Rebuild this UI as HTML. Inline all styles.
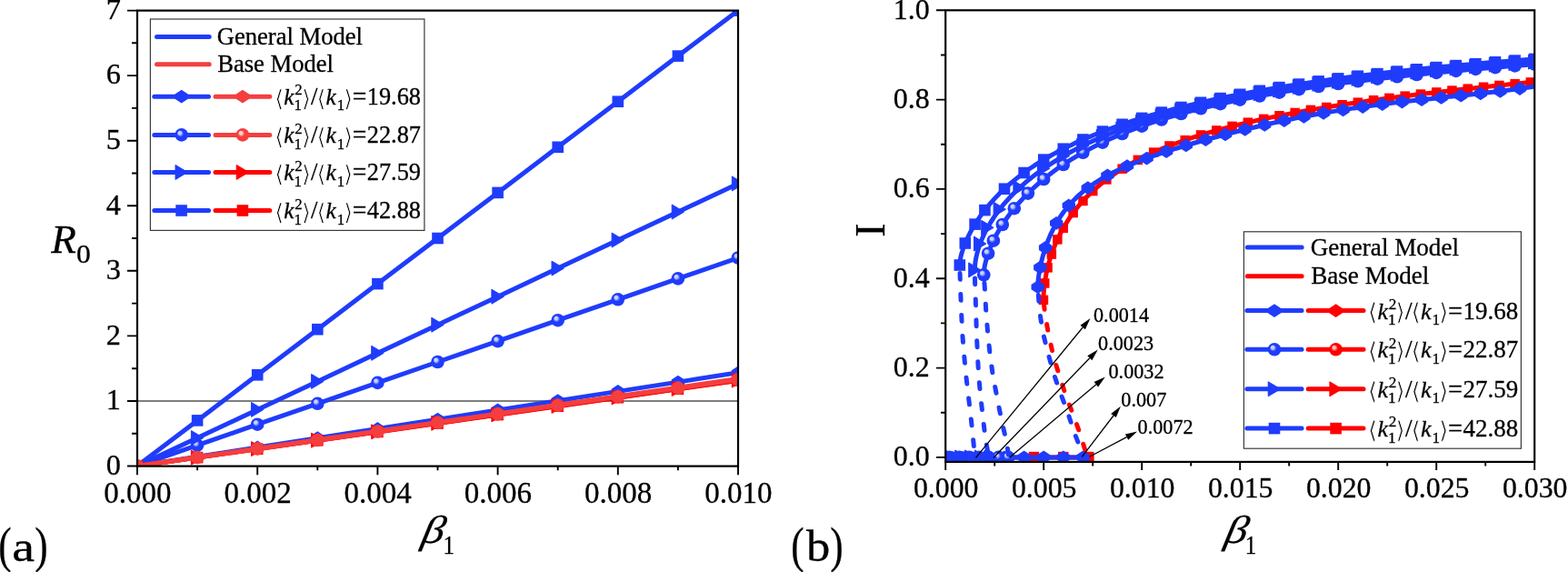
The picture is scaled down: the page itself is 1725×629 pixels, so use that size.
<!DOCTYPE html>
<html><head><meta charset="utf-8"><title>Figure</title>
<style>html,body{margin:0;padding:0;background:#fff;} body{width:1725px;height:629px;position:relative;overflow:hidden;}</style>
</head><body>
<svg width="1725" height="629" viewBox="0 0 1725 629" style="position:absolute;left:0;top:0">
<defs>
<style>text{stroke:#000;stroke-width:0.3px;stroke-linejoin:round;}</style>
<radialGradient id="gb" cx="0.5" cy="0.5" r="0.5" fx="0.32" fy="0.30"><stop offset="0" stop-color="#c9d2ff"/><stop offset="0.22" stop-color="#c9d2ff"/><stop offset="0.5" stop-color="#1F3CFC"/><stop offset="1" stop-color="#1F3CFC"/></radialGradient>
<radialGradient id="gr" cx="0.5" cy="0.5" r="0.5" fx="0.32" fy="0.30"><stop offset="0" stop-color="#ffc0c0"/><stop offset="0.22" stop-color="#ffc0c0"/><stop offset="0.5" stop-color="#FF0000"/><stop offset="1" stop-color="#FF0000"/></radialGradient>
<radialGradient id="glr" cx="0.5" cy="0.5" r="0.5" fx="0.32" fy="0.30"><stop offset="0" stop-color="#ffd0d0"/><stop offset="0.22" stop-color="#ffd0d0"/><stop offset="0.5" stop-color="#F53E3E"/><stop offset="1" stop-color="#F53E3E"/></radialGradient>
<clipPath id="clipA"><rect x="151.0" y="11.6" width="661.0" height="501.0"/></clipPath>
<clipPath id="clipB"><rect x="1040.2" y="11.3" width="648.0" height="496.59999999999997"/></clipPath>
</defs>
<rect width="1725" height="629" fill="#fff"/>
<g clip-path="url(#clipA)">
<line x1="151.0" y1="441.0" x2="812.0" y2="441.0" stroke="#7f7f7f" stroke-width="2.2"/>
<path d="M151.0,512.5 L217.1,502.3 L283.2,492.0 L349.3,481.7 L415.4,471.5 L481.5,461.2 L547.6,450.9 L613.7,440.6 L679.8,430.4 L745.9,420.1 L812.0,409.8" fill="none" stroke="#1F3CFC" stroke-width="5.0" stroke-linejoin="round" stroke-linecap="round" />
<polygon points="151.0,505.1 158.2,509.9 158.2,515.1 151.0,519.9 143.8,515.1 143.8,509.9" fill="#1F3CFC"/>
<polygon points="217.1,494.9 224.3,499.7 224.3,504.9 217.1,509.7 209.9,504.9 209.9,499.7" fill="#1F3CFC"/>
<polygon points="283.2,484.6 290.4,489.4 290.4,494.6 283.2,499.4 276.0,494.6 276.0,489.4" fill="#1F3CFC"/>
<polygon points="349.3,474.3 356.5,479.1 356.5,484.3 349.3,489.1 342.1,484.3 342.1,479.1" fill="#1F3CFC"/>
<polygon points="415.4,464.1 422.6,468.9 422.6,474.1 415.4,478.9 408.2,474.1 408.2,468.9" fill="#1F3CFC"/>
<polygon points="481.5,453.8 488.7,458.6 488.7,463.8 481.5,468.6 474.3,463.8 474.3,458.6" fill="#1F3CFC"/>
<polygon points="547.6,443.5 554.8,448.3 554.8,453.5 547.6,458.3 540.4,453.5 540.4,448.3" fill="#1F3CFC"/>
<polygon points="613.7,433.2 620.9,438.0 620.9,443.2 613.7,448.0 606.5,443.2 606.5,438.0" fill="#1F3CFC"/>
<polygon points="679.8,423.0 687.0,427.8 687.0,433.0 679.8,437.8 672.6,433.0 672.6,427.8" fill="#1F3CFC"/>
<polygon points="745.9,412.7 753.1,417.5 753.1,422.7 745.9,427.5 738.7,422.7 738.7,417.5" fill="#1F3CFC"/>
<polygon points="812.0,402.4 819.2,407.2 819.2,412.4 812.0,417.2 804.8,412.4 804.8,407.2" fill="#1F3CFC"/>
<path d="M151.0,512.5 L217.1,489.6 L283.2,466.7 L349.3,443.8 L415.4,420.9 L481.5,398.0 L547.6,375.1 L613.7,352.2 L679.8,329.3 L745.9,306.4 L812.0,283.5" fill="none" stroke="#1F3CFC" stroke-width="5.0" stroke-linejoin="round" stroke-linecap="round" />
<circle cx="151.0" cy="512.5" r="7.3" fill="url(#gb)"/>
<circle cx="217.1" cy="489.6" r="7.3" fill="url(#gb)"/>
<circle cx="283.2" cy="466.7" r="7.3" fill="url(#gb)"/>
<circle cx="349.3" cy="443.8" r="7.3" fill="url(#gb)"/>
<circle cx="415.4" cy="420.9" r="7.3" fill="url(#gb)"/>
<circle cx="481.5" cy="398.0" r="7.3" fill="url(#gb)"/>
<circle cx="547.6" cy="375.1" r="7.3" fill="url(#gb)"/>
<circle cx="613.7" cy="352.2" r="7.3" fill="url(#gb)"/>
<circle cx="679.8" cy="329.3" r="7.3" fill="url(#gb)"/>
<circle cx="745.9" cy="306.4" r="7.3" fill="url(#gb)"/>
<circle cx="812.0" cy="283.5" r="7.3" fill="url(#gb)"/>
<path d="M151.0,512.5 L217.1,481.5 L283.2,450.4 L349.3,419.4 L415.4,388.3 L481.5,357.2 L547.6,326.2 L613.7,295.1 L679.8,264.0 L745.9,233.0 L812.0,201.9" fill="none" stroke="#1F3CFC" stroke-width="5.0" stroke-linejoin="round" stroke-linecap="round" />
<polygon points="144.3,504.5 157.7,512.5 144.3,520.5" fill="#1F3CFC" stroke="#1F3CFC" stroke-width="1" stroke-linejoin="round"/>
<polygon points="210.4,473.5 223.8,481.5 210.4,489.5" fill="#1F3CFC" stroke="#1F3CFC" stroke-width="1" stroke-linejoin="round"/>
<polygon points="276.5,442.4 289.9,450.4 276.5,458.4" fill="#1F3CFC" stroke="#1F3CFC" stroke-width="1" stroke-linejoin="round"/>
<polygon points="342.6,411.4 356.0,419.4 342.6,427.4" fill="#1F3CFC" stroke="#1F3CFC" stroke-width="1" stroke-linejoin="round"/>
<polygon points="408.7,380.3 422.1,388.3 408.7,396.3" fill="#1F3CFC" stroke="#1F3CFC" stroke-width="1" stroke-linejoin="round"/>
<polygon points="474.8,349.2 488.2,357.2 474.8,365.2" fill="#1F3CFC" stroke="#1F3CFC" stroke-width="1" stroke-linejoin="round"/>
<polygon points="540.9,318.2 554.3,326.2 540.9,334.2" fill="#1F3CFC" stroke="#1F3CFC" stroke-width="1" stroke-linejoin="round"/>
<polygon points="607.0,287.1 620.4,295.1 607.0,303.1" fill="#1F3CFC" stroke="#1F3CFC" stroke-width="1" stroke-linejoin="round"/>
<polygon points="673.1,256.0 686.5,264.0 673.1,272.0" fill="#1F3CFC" stroke="#1F3CFC" stroke-width="1" stroke-linejoin="round"/>
<polygon points="739.2,225.0 752.6,233.0 739.2,241.0" fill="#1F3CFC" stroke="#1F3CFC" stroke-width="1" stroke-linejoin="round"/>
<polygon points="805.3,193.9 818.7,201.9 805.3,209.9" fill="#1F3CFC" stroke="#1F3CFC" stroke-width="1" stroke-linejoin="round"/>
<path d="M151.0,512.5 L217.1,462.4 L283.2,412.3 L349.3,362.2 L415.4,312.1 L481.5,262.0 L547.6,211.9 L613.7,161.8 L679.8,111.7 L745.9,61.6 L812.0,11.6" fill="none" stroke="#1F3CFC" stroke-width="5.0" stroke-linejoin="round" stroke-linecap="round" />
<rect x="144.7" y="506.2" width="12.6" height="12.6" fill="#1F3CFC"/>
<rect x="210.8" y="456.1" width="12.6" height="12.6" fill="#1F3CFC"/>
<rect x="276.9" y="406.0" width="12.6" height="12.6" fill="#1F3CFC"/>
<rect x="343.0" y="355.9" width="12.6" height="12.6" fill="#1F3CFC"/>
<rect x="409.1" y="305.8" width="12.6" height="12.6" fill="#1F3CFC"/>
<rect x="475.2" y="255.7" width="12.6" height="12.6" fill="#1F3CFC"/>
<rect x="541.3" y="205.6" width="12.6" height="12.6" fill="#1F3CFC"/>
<rect x="607.4" y="155.5" width="12.6" height="12.6" fill="#1F3CFC"/>
<rect x="673.5" y="105.4" width="12.6" height="12.6" fill="#1F3CFC"/>
<rect x="739.6" y="55.3" width="12.6" height="12.6" fill="#1F3CFC"/>
<rect x="805.7" y="5.3" width="12.6" height="12.6" fill="#1F3CFC"/>
<path d="M151.0,512.5 L217.1,503.1 L283.2,493.7 L349.3,484.3 L415.4,474.9 L481.5,465.5 L547.6,456.1 L613.7,446.7 L679.8,437.2 L745.9,427.8 L812.0,418.4" fill="none" stroke="#FF0000" stroke-width="5.0" stroke-linejoin="round" stroke-linecap="round" />
<rect x="144.7" y="506.2" width="12.6" height="12.6" fill="#FF0000"/>
<rect x="210.8" y="496.8" width="12.6" height="12.6" fill="#FF0000"/>
<rect x="276.9" y="487.4" width="12.6" height="12.6" fill="#FF0000"/>
<rect x="343.0" y="478.0" width="12.6" height="12.6" fill="#FF0000"/>
<rect x="409.1" y="468.6" width="12.6" height="12.6" fill="#FF0000"/>
<rect x="475.2" y="459.2" width="12.6" height="12.6" fill="#FF0000"/>
<rect x="541.3" y="449.8" width="12.6" height="12.6" fill="#FF0000"/>
<rect x="607.4" y="440.4" width="12.6" height="12.6" fill="#FF0000"/>
<rect x="673.5" y="430.9" width="12.6" height="12.6" fill="#FF0000"/>
<rect x="739.6" y="421.5" width="12.6" height="12.6" fill="#FF0000"/>
<rect x="805.7" y="412.1" width="12.6" height="12.6" fill="#FF0000"/>
<path d="M151.0,512.5 L217.1,503.1 L283.2,493.6 L349.3,484.2 L415.4,474.8 L481.5,465.3 L547.6,455.9 L613.7,446.4 L679.8,437.0 L745.9,427.5 L812.0,418.1" fill="none" stroke="#FF0000" stroke-width="5.0" stroke-linejoin="round" stroke-linecap="round" />
<polygon points="144.3,504.5 157.7,512.5 144.3,520.5" fill="#FF0000" stroke="#FF0000" stroke-width="1" stroke-linejoin="round"/>
<polygon points="210.4,495.1 223.8,503.1 210.4,511.1" fill="#FF0000" stroke="#FF0000" stroke-width="1" stroke-linejoin="round"/>
<polygon points="276.5,485.6 289.9,493.6 276.5,501.6" fill="#FF0000" stroke="#FF0000" stroke-width="1" stroke-linejoin="round"/>
<polygon points="342.6,476.2 356.0,484.2 342.6,492.2" fill="#FF0000" stroke="#FF0000" stroke-width="1" stroke-linejoin="round"/>
<polygon points="408.7,466.8 422.1,474.8 408.7,482.8" fill="#FF0000" stroke="#FF0000" stroke-width="1" stroke-linejoin="round"/>
<polygon points="474.8,457.3 488.2,465.3 474.8,473.3" fill="#FF0000" stroke="#FF0000" stroke-width="1" stroke-linejoin="round"/>
<polygon points="540.9,447.9 554.3,455.9 540.9,463.9" fill="#FF0000" stroke="#FF0000" stroke-width="1" stroke-linejoin="round"/>
<polygon points="607.0,438.4 620.4,446.4 607.0,454.4" fill="#FF0000" stroke="#FF0000" stroke-width="1" stroke-linejoin="round"/>
<polygon points="673.1,429.0 686.5,437.0 673.1,445.0" fill="#FF0000" stroke="#FF0000" stroke-width="1" stroke-linejoin="round"/>
<polygon points="739.2,419.5 752.6,427.5 739.2,435.5" fill="#FF0000" stroke="#FF0000" stroke-width="1" stroke-linejoin="round"/>
<polygon points="805.3,410.1 818.7,418.1 805.3,426.1" fill="#FF0000" stroke="#FF0000" stroke-width="1" stroke-linejoin="round"/>
<path d="M151.0,512.5 L217.1,503.0 L283.2,493.5 L349.3,484.0 L415.4,474.5 L481.5,464.9 L547.6,455.4 L613.7,445.9 L679.8,436.4 L745.9,426.9 L812.0,417.4" fill="none" stroke="#F53E3E" stroke-width="5.0" stroke-linejoin="round" stroke-linecap="round" />
<circle cx="151.0" cy="512.5" r="7.3" fill="url(#glr)"/>
<circle cx="217.1" cy="503.0" r="7.3" fill="url(#glr)"/>
<circle cx="283.2" cy="493.5" r="7.3" fill="url(#glr)"/>
<circle cx="349.3" cy="484.0" r="7.3" fill="url(#glr)"/>
<circle cx="415.4" cy="474.5" r="7.3" fill="url(#glr)"/>
<circle cx="481.5" cy="464.9" r="7.3" fill="url(#glr)"/>
<circle cx="547.6" cy="455.4" r="7.3" fill="url(#glr)"/>
<circle cx="613.7" cy="445.9" r="7.3" fill="url(#glr)"/>
<circle cx="679.8" cy="436.4" r="7.3" fill="url(#glr)"/>
<circle cx="745.9" cy="426.9" r="7.3" fill="url(#glr)"/>
<circle cx="812.0" cy="417.4" r="7.3" fill="url(#glr)"/>
<path d="M151.0,512.5 L217.1,502.9 L283.2,493.3 L349.3,483.7 L415.4,474.1 L481.5,464.5 L547.6,454.9 L613.7,445.3 L679.8,435.7 L745.9,426.1 L812.0,416.5" fill="none" stroke="#F53E3E" stroke-width="5.0" stroke-linejoin="round" stroke-linecap="round" />
<polygon points="151.0,505.1 158.2,509.9 158.2,515.1 151.0,519.9 143.8,515.1 143.8,509.9" fill="#F53E3E"/>
<polygon points="217.1,495.5 224.3,500.3 224.3,505.5 217.1,510.3 209.9,505.5 209.9,500.3" fill="#F53E3E"/>
<polygon points="283.2,485.9 290.4,490.7 290.4,495.9 283.2,500.7 276.0,495.9 276.0,490.7" fill="#F53E3E"/>
<polygon points="349.3,476.3 356.5,481.1 356.5,486.3 349.3,491.1 342.1,486.3 342.1,481.1" fill="#F53E3E"/>
<polygon points="415.4,466.7 422.6,471.5 422.6,476.7 415.4,481.5 408.2,476.7 408.2,471.5" fill="#F53E3E"/>
<polygon points="481.5,457.1 488.7,461.9 488.7,467.1 481.5,471.9 474.3,467.1 474.3,461.9" fill="#F53E3E"/>
<polygon points="547.6,447.5 554.8,452.3 554.8,457.5 547.6,462.3 540.4,457.5 540.4,452.3" fill="#F53E3E"/>
<polygon points="613.7,437.9 620.9,442.7 620.9,447.9 613.7,452.7 606.5,447.9 606.5,442.7" fill="#F53E3E"/>
<polygon points="679.8,428.3 687.0,433.1 687.0,438.3 679.8,443.1 672.6,438.3 672.6,433.1" fill="#F53E3E"/>
<polygon points="745.9,418.7 753.1,423.5 753.1,428.7 745.9,433.5 738.7,428.7 738.7,423.5" fill="#F53E3E"/>
<polygon points="812.0,409.1 819.2,413.9 819.2,419.1 812.0,423.9 804.8,419.1 804.8,413.9" fill="#F53E3E"/>
</g>
<rect x="151.0" y="11.6" width="661.0" height="501.0" fill="none" stroke="#000" stroke-width="2.2"/>
<path d="M140.0,512.5 H151.0 M145.0,476.8 H151.0 M140.0,441.0 H151.0 M145.0,405.2 H151.0 M140.0,369.4 H151.0 M145.0,333.6 H151.0 M140.0,297.8 H151.0 M145.0,262.0 H151.0 M140.0,226.3 H151.0 M145.0,190.5 H151.0 M140.0,154.7 H151.0 M145.0,118.9 H151.0 M140.0,83.1 H151.0 M145.0,47.3 H151.0 M140.0,11.6 H151.0 M151.0,512.6 V522.3 M217.1,512.6 V517.2 M283.2,512.6 V522.3 M349.3,512.6 V517.2 M415.4,512.6 V522.3 M481.5,512.6 V517.2 M547.6,512.6 V522.3 M613.7,512.6 V517.2 M679.8,512.6 V522.3 M745.9,512.6 V517.2 M812.0,512.6 V522.3" stroke="#000" stroke-width="1.9" fill="none"/>
<g font-family="'Liberation Serif', 'DejaVu Serif', serif" font-size="32.3" fill="#000">
<text x="133" y="521.7" text-anchor="end">0</text>
<text x="133" y="450.2" text-anchor="end">1</text>
<text x="133" y="378.6" text-anchor="end">2</text>
<text x="133" y="307.0" text-anchor="end">3</text>
<text x="133" y="235.5" text-anchor="end">4</text>
<text x="133" y="163.9" text-anchor="end">5</text>
<text x="133" y="92.3" text-anchor="end">6</text>
<text x="133" y="20.8" text-anchor="end">7</text>
</g>
<g font-family="'Liberation Serif', 'DejaVu Serif', serif" font-size="33" fill="#000">
<text x="151.3" y="552.6" text-anchor="middle">0.000</text>
<text x="283.5" y="552.6" text-anchor="middle">0.002</text>
<text x="415.7" y="552.6" text-anchor="middle">0.004</text>
<text x="547.9" y="552.6" text-anchor="middle">0.006</text>
<text x="680.1" y="552.6" text-anchor="middle">0.008</text>
<text x="812.3" y="552.6" text-anchor="middle">0.010</text>
</g>
<g clip-path="url(#clipB)">
<path d="M1040.2,502.9 L1195.7,502.9" fill="none" stroke="#FF0000" stroke-width="5.0" stroke-linejoin="round" stroke-linecap="round" />
<rect x="1034.5" y="496.8" width="11.5" height="11.5" fill="#FF0000"/>
<rect x="1066.9" y="496.8" width="11.5" height="11.5" fill="#FF0000"/>
<rect x="1099.2" y="496.8" width="11.5" height="11.5" fill="#FF0000"/>
<rect x="1131.7" y="496.8" width="11.5" height="11.5" fill="#FF0000"/>
<rect x="1164.0" y="496.8" width="11.5" height="11.5" fill="#FF0000"/>
<rect x="1192.1" y="496.8" width="11.5" height="11.5" fill="#FF0000"/>
<path d="M1148.0,329.9 L1149.3,342.6 L1153.0,364.8 L1159.0,392.3 L1165.9,414.4 L1173.0,436.5 L1181.2,457.2 L1189.0,479.3 L1196.2,502.9" fill="none" stroke="#FF0000" stroke-width="5.0" stroke-linejoin="round" stroke-linecap="round" stroke-dasharray="6.5 16.5" stroke-dashoffset="-4"/>
<path d="M1148.0,329.9 L1148.0,326.8 L1148.1,323.7 L1148.3,320.5 L1148.6,317.3 L1149.0,314.0 L1149.4,310.7 L1149.9,307.3 L1150.5,303.9 L1151.1,300.5 L1151.9,297.1 L1152.7,293.7 L1153.6,290.2 L1154.6,286.8 L1155.6,283.3 L1156.7,279.9 L1157.9,276.4 L1159.2,273.0 L1160.6,269.6 L1162.0,266.2 L1163.5,262.9 L1165.1,259.5 L1166.8,256.2 L1168.6,252.9 L1170.4,249.7 L1172.3,246.5 L1174.3,243.3 L1176.3,240.1 L1178.5,237.0 L1180.7,234.0 L1183.0,230.9 L1185.4,227.9 L1187.8,225.0 L1190.4,222.1 L1193.0,219.2 L1195.6,216.4 L1198.4,213.7 L1201.3,210.9 L1204.2,208.2 L1207.2,205.6 L1210.2,203.0 L1213.4,200.5 L1216.6,198.0 L1219.9,195.5 L1223.3,193.1 L1226.8,190.7 L1230.3,188.4 L1233.9,186.1 L1237.6,183.8 L1241.4,181.6 L1245.3,179.4 L1249.2,177.3 L1253.2,175.2 L1257.3,173.2 L1261.4,171.1 L1265.7,169.2 L1270.0,167.2 L1274.4,165.3 L1278.9,163.4 L1283.4,161.6 L1288.1,159.8 L1292.8,158.0 L1297.6,156.3 L1302.4,154.6 L1307.4,152.9 L1312.4,151.2 L1317.5,149.6 L1322.7,148.0 L1327.9,146.4 L1333.2,144.9 L1338.6,143.3 L1344.1,141.9 L1349.7,140.4 L1355.3,138.9 L1361.1,137.5 L1366.9,136.1 L1372.7,134.7 L1378.7,133.4 L1384.7,132.0 L1390.8,130.7 L1397.0,129.4 L1403.3,128.1 L1409.6,126.8 L1416.0,125.6 L1422.5,124.4 L1429.1,123.1 L1435.8,121.9 L1442.5,120.8 L1449.3,119.6 L1456.2,118.5 L1463.2,117.3 L1470.2,116.2 L1477.3,115.1 L1484.5,114.0 L1491.8,112.9 L1499.2,111.9 L1506.6,110.8 L1514.1,109.8 L1521.7,108.7 L1529.3,107.7 L1537.1,106.7 L1544.9,105.7 L1552.8,104.8 L1560.8,103.8 L1568.8,102.8 L1577.0,101.9 L1585.2,100.9 L1593.5,100.0 L1601.8,99.0 L1610.3,98.1 L1618.8,97.2 L1627.4,96.3 L1636.1,95.3 L1644.8,94.4 L1653.7,93.5 L1662.6,92.6 L1671.6,91.7 L1680.6,90.8 L1689.8,89.8 L1699.0,88.9" fill="none" stroke="#FF0000" stroke-width="5.0" stroke-linejoin="round" stroke-linecap="round" />
<rect x="1142.7" y="324.6" width="10.5" height="10.5" fill="#FF0000"/>
<rect x="1144.0" y="306.2" width="10.5" height="10.5" fill="#FF0000"/>
<rect x="1147.3" y="289.1" width="10.5" height="10.5" fill="#FF0000"/>
<rect x="1151.6" y="274.3" width="10.5" height="10.5" fill="#FF0000"/>
<rect x="1158.1" y="258.1" width="10.5" height="10.5" fill="#FF0000"/>
<rect x="1164.5" y="245.5" width="10.5" height="10.5" fill="#FF0000"/>
<rect x="1175.4" y="228.8" width="10.5" height="10.5" fill="#FF0000"/>
<rect x="1186.2" y="215.7" width="10.5" height="10.5" fill="#FF0000"/>
<rect x="1197.0" y="204.8" width="10.5" height="10.5" fill="#FF0000"/>
<rect x="1212.1" y="192.2" width="10.5" height="10.5" fill="#FF0000"/>
<rect x="1229.4" y="180.4" width="10.5" height="10.5" fill="#FF0000"/>
<rect x="1246.6" y="170.6" width="10.5" height="10.5" fill="#FF0000"/>
<rect x="1263.9" y="162.3" width="10.5" height="10.5" fill="#FF0000"/>
<rect x="1281.2" y="155.2" width="10.5" height="10.5" fill="#FF0000"/>
<rect x="1298.5" y="148.9" width="10.5" height="10.5" fill="#FF0000"/>
<rect x="1315.8" y="143.2" width="10.5" height="10.5" fill="#FF0000"/>
<rect x="1333.0" y="138.2" width="10.5" height="10.5" fill="#FF0000"/>
<rect x="1350.3" y="133.6" width="10.5" height="10.5" fill="#FF0000"/>
<rect x="1367.6" y="129.4" width="10.5" height="10.5" fill="#FF0000"/>
<rect x="1384.9" y="125.6" width="10.5" height="10.5" fill="#FF0000"/>
<rect x="1402.2" y="122.0" width="10.5" height="10.5" fill="#FF0000"/>
<rect x="1419.4" y="118.7" width="10.5" height="10.5" fill="#FF0000"/>
<rect x="1436.7" y="115.6" width="10.5" height="10.5" fill="#FF0000"/>
<rect x="1454.0" y="112.7" width="10.5" height="10.5" fill="#FF0000"/>
<rect x="1471.3" y="110.0" width="10.5" height="10.5" fill="#FF0000"/>
<rect x="1488.6" y="107.4" width="10.5" height="10.5" fill="#FF0000"/>
<rect x="1505.8" y="104.9" width="10.5" height="10.5" fill="#FF0000"/>
<rect x="1523.1" y="102.6" width="10.5" height="10.5" fill="#FF0000"/>
<rect x="1540.4" y="100.4" width="10.5" height="10.5" fill="#FF0000"/>
<rect x="1557.7" y="98.3" width="10.5" height="10.5" fill="#FF0000"/>
<rect x="1575.0" y="96.2" width="10.5" height="10.5" fill="#FF0000"/>
<rect x="1592.2" y="94.3" width="10.5" height="10.5" fill="#FF0000"/>
<rect x="1609.5" y="92.4" width="10.5" height="10.5" fill="#FF0000"/>
<rect x="1626.8" y="90.5" width="10.5" height="10.5" fill="#FF0000"/>
<rect x="1644.1" y="88.7" width="10.5" height="10.5" fill="#FF0000"/>
<rect x="1661.4" y="86.9" width="10.5" height="10.5" fill="#FF0000"/>
<rect x="1678.6" y="85.2" width="10.5" height="10.5" fill="#FF0000"/>
<path d="M1040.2,502.9 L1191.4,502.9" fill="none" stroke="#1F3CFC" stroke-width="5.0" stroke-linejoin="round" stroke-linecap="round" />
<polygon points="1040.2,495.5 1047.4,500.3 1047.4,505.5 1040.2,510.3 1033.0,505.5 1033.0,500.3" fill="#1F3CFC"/>
<polygon points="1061.8,495.5 1069.0,500.3 1069.0,505.5 1061.8,510.3 1054.6,505.5 1054.6,500.3" fill="#1F3CFC"/>
<polygon points="1083.4,495.5 1090.6,500.3 1090.6,505.5 1083.4,510.3 1076.2,505.5 1076.2,500.3" fill="#1F3CFC"/>
<polygon points="1105.0,495.5 1112.2,500.3 1112.2,505.5 1105.0,510.3 1097.8,505.5 1097.8,500.3" fill="#1F3CFC"/>
<polygon points="1126.6,495.5 1133.8,500.3 1133.8,505.5 1126.6,510.3 1119.4,505.5 1119.4,500.3" fill="#1F3CFC"/>
<polygon points="1148.2,495.5 1155.4,500.3 1155.4,505.5 1148.2,510.3 1141.0,505.5 1141.0,500.3" fill="#1F3CFC"/>
<polygon points="1169.8,495.5 1177.0,500.3 1177.0,505.5 1169.8,510.3 1162.6,505.5 1162.6,500.3" fill="#1F3CFC"/>
<polygon points="1191.4,495.5 1198.6,500.3 1198.6,505.5 1191.4,510.3 1184.2,505.5 1184.2,500.3" fill="#1F3CFC"/>
<circle cx="1044.5" cy="502.9" r="7.3" fill="url(#gb)"/>
<circle cx="1055.3" cy="502.9" r="7.3" fill="url(#gb)"/>
<circle cx="1066.1" cy="502.9" r="7.3" fill="url(#gb)"/>
<circle cx="1076.9" cy="502.9" r="7.3" fill="url(#gb)"/>
<circle cx="1087.7" cy="502.9" r="7.3" fill="url(#gb)"/>
<circle cx="1098.5" cy="502.9" r="7.3" fill="url(#gb)"/>
<circle cx="1109.3" cy="502.9" r="7.3" fill="url(#gb)"/>
<polygon points="1040.0,494.9 1053.4,502.9 1040.0,510.9" fill="#1F3CFC" stroke="#1F3CFC" stroke-width="1" stroke-linejoin="round"/>
<polygon points="1050.8,494.9 1064.2,502.9 1050.8,510.9" fill="#1F3CFC" stroke="#1F3CFC" stroke-width="1" stroke-linejoin="round"/>
<polygon points="1061.6,494.9 1075.0,502.9 1061.6,510.9" fill="#1F3CFC" stroke="#1F3CFC" stroke-width="1" stroke-linejoin="round"/>
<polygon points="1072.4,494.9 1085.8,502.9 1072.4,510.9" fill="#1F3CFC" stroke="#1F3CFC" stroke-width="1" stroke-linejoin="round"/>
<polygon points="1083.2,494.9 1096.6,502.9 1083.2,510.9" fill="#1F3CFC" stroke="#1F3CFC" stroke-width="1" stroke-linejoin="round"/>
<rect x="1036.1" y="496.6" width="12.6" height="12.6" fill="#1F3CFC"/>
<rect x="1046.9" y="496.6" width="12.6" height="12.6" fill="#1F3CFC"/>
<rect x="1057.7" y="496.6" width="12.6" height="12.6" fill="#1F3CFC"/>
<path d="M1141.7,315.6 L1143.7,342.6 L1147.1,364.8 L1152.7,387.4 L1158.8,409.5 L1165.9,430.6 L1174.1,451.8 L1181.2,473.9 L1189.2,494.5 L1191.6,502.9" fill="none" stroke="#1F3CFC" stroke-width="5.0" stroke-linejoin="round" stroke-linecap="round" stroke-dasharray="6.8 16.2" stroke-dashoffset="-9"/>
<path d="M1082.3,302.3 L1083.4,317.6 L1084.7,341.2 L1086.6,365.3 L1089.0,388.8 L1092.3,412.9 L1093.8,420.8 L1098.1,443.4 L1102.4,464.6 L1107.6,487.2 L1109.8,502.9" fill="none" stroke="#1F3CFC" stroke-width="5.0" stroke-linejoin="round" stroke-linecap="round" stroke-dasharray="6.8 16.2" stroke-dashoffset="-9"/>
<path d="M1072.4,296.9 L1072.6,311.2 L1073.7,341.2 L1074.3,365.3 L1075.4,388.8 L1076.5,410.5 L1078.6,434.6 L1081.2,457.4 L1083.8,480.3 L1085.6,490.6 L1087.7,502.9" fill="none" stroke="#1F3CFC" stroke-width="5.0" stroke-linejoin="round" stroke-linecap="round" stroke-dasharray="6.8 16.2" stroke-dashoffset="-9"/>
<path d="M1055.8,291.5 L1056.4,311.7 L1057.5,341.2 L1058.6,365.3 L1060.5,388.8 L1062.4,409.5 L1064.8,431.1 L1067.4,452.3 L1069.8,474.9 L1071.7,494.1 L1072.4,502.9" fill="none" stroke="#1F3CFC" stroke-width="5.0" stroke-linejoin="round" stroke-linecap="round" stroke-dasharray="6.8 16.2" stroke-dashoffset="-9"/>
<path d="M1141.7,315.6 L1141.8,313.6 L1141.9,311.4 L1142.1,308.9 L1142.3,306.3 L1142.7,303.5 L1143.1,300.6 L1143.6,297.6 L1144.2,294.4 L1144.9,291.2 L1145.7,287.9 L1146.5,284.6 L1147.4,281.2 L1148.4,277.9 L1149.4,274.5 L1150.6,271.1 L1151.8,267.7 L1153.1,264.3 L1154.5,260.9 L1155.9,257.6 L1157.5,254.3 L1159.1,251.1 L1160.8,247.9 L1162.5,244.8 L1164.4,241.7 L1166.3,238.7 L1168.3,235.7 L1170.4,232.8 L1172.6,230.0 L1174.8,227.3 L1177.1,224.6 L1179.5,221.9 L1182.0,219.4 L1184.6,216.9 L1187.2,214.4 L1189.9,212.1 L1192.7,209.7 L1195.6,207.5 L1198.5,205.3 L1201.6,203.2 L1204.7,201.1 L1207.9,199.0 L1211.1,197.0 L1214.5,195.1 L1217.9,193.2 L1221.4,191.3 L1225.0,189.5 L1228.7,187.7 L1232.4,186.0 L1236.2,184.2 L1240.1,182.5 L1244.1,180.9 L1248.1,179.2 L1252.3,177.6 L1256.5,176.0 L1260.8,174.4 L1265.1,172.8 L1269.6,171.2 L1274.1,169.7 L1278.7,168.1 L1283.4,166.6 L1288.2,165.1 L1293.0,163.5 L1297.9,162.0 L1302.9,160.5 L1308.0,159.0 L1313.1,157.5 L1318.4,156.0 L1323.7,154.5 L1329.1,153.0 L1334.6,151.5 L1340.1,150.0 L1345.7,148.5 L1351.4,147.0 L1357.2,145.5 L1363.1,144.0 L1369.0,142.6 L1375.0,141.1 L1381.1,139.7 L1387.3,138.2 L1393.6,136.8 L1399.9,135.4 L1406.3,134.0 L1412.8,132.6 L1419.4,131.3 L1426.0,129.9 L1432.8,128.6 L1439.6,127.3 L1446.5,126.0 L1453.4,124.8 L1460.5,123.6 L1467.6,122.4 L1474.8,121.2 L1482.1,120.1 L1489.4,118.9 L1496.9,117.9 L1504.4,116.8 L1512.0,115.8 L1519.7,114.8 L1527.4,113.8 L1535.3,112.8 L1543.2,111.9 L1551.2,111.0 L1559.2,110.1 L1567.4,109.2 L1575.6,108.4 L1583.9,107.5 L1592.3,106.6 L1600.7,105.8 L1609.3,104.9 L1617.9,104.0 L1626.6,103.0 L1635.4,102.1 L1644.2,101.0 L1653.2,100.0 L1662.2,98.8 L1671.3,97.6 L1680.4,96.2 L1689.7,94.8 L1699.0,93.2" fill="none" stroke="#1F3CFC" stroke-width="5.0" stroke-linejoin="round" stroke-linecap="round" />
<polygon points="1141.7,308.2 1148.9,313.0 1148.9,318.2 1141.7,323.0 1134.5,318.2 1134.5,313.0" fill="#1F3CFC"/>
<polygon points="1144.3,286.7 1151.5,291.5 1151.5,296.7 1144.3,301.5 1137.1,296.7 1137.1,291.5" fill="#1F3CFC"/>
<polygon points="1150.1,264.9 1157.3,269.7 1157.3,274.9 1150.1,279.7 1142.9,274.9 1142.9,269.7" fill="#1F3CFC"/>
<polygon points="1162.2,237.9 1169.4,242.7 1169.4,247.9 1162.2,252.7 1155.0,247.9 1155.0,242.7" fill="#1F3CFC"/>
<polygon points="1175.8,218.6 1183.0,223.4 1183.0,228.6 1175.8,233.4 1168.6,228.6 1168.6,223.4" fill="#1F3CFC"/>
<polygon points="1196.8,199.2 1204.0,204.0 1204.0,209.2 1196.8,214.0 1189.6,209.2 1189.6,204.0" fill="#1F3CFC"/>
<polygon points="1218.4,185.5 1225.6,190.3 1225.6,195.5 1218.4,200.3 1211.2,195.5 1211.2,190.3" fill="#1F3CFC"/>
<polygon points="1240.0,175.2 1247.2,180.0 1247.2,185.2 1240.0,190.0 1232.8,185.2 1232.8,180.0" fill="#1F3CFC"/>
<polygon points="1261.6,166.7 1268.8,171.5 1268.8,176.7 1261.6,181.5 1254.4,176.7 1254.4,171.5" fill="#1F3CFC"/>
<polygon points="1283.2,159.3 1290.4,164.1 1290.4,169.3 1283.2,174.1 1276.0,169.3 1276.0,164.1" fill="#1F3CFC"/>
<polygon points="1304.8,152.5 1312.0,157.3 1312.0,162.5 1304.8,167.3 1297.6,162.5 1297.6,157.3" fill="#1F3CFC"/>
<polygon points="1326.4,146.3 1333.6,151.1 1333.6,156.3 1326.4,161.1 1319.2,156.3 1319.2,151.1" fill="#1F3CFC"/>
<polygon points="1348.0,140.5 1355.2,145.3 1355.2,150.5 1348.0,155.3 1340.8,150.5 1340.8,145.3" fill="#1F3CFC"/>
<polygon points="1369.6,135.0 1376.8,139.8 1376.8,145.0 1369.6,149.8 1362.4,145.0 1362.4,139.8" fill="#1F3CFC"/>
<polygon points="1391.2,130.0 1398.4,134.8 1398.4,140.0 1391.2,144.8 1384.0,140.0 1384.0,134.8" fill="#1F3CFC"/>
<polygon points="1412.8,125.2 1420.0,130.0 1420.0,135.2 1412.8,140.0 1405.6,135.2 1405.6,130.0" fill="#1F3CFC"/>
<polygon points="1434.4,120.9 1441.6,125.7 1441.6,130.9 1434.4,135.7 1427.2,130.9 1427.2,125.7" fill="#1F3CFC"/>
<polygon points="1456.0,116.9 1463.2,121.7 1463.2,126.9 1456.0,131.7 1448.8,126.9 1448.8,121.7" fill="#1F3CFC"/>
<polygon points="1477.6,113.4 1484.8,118.2 1484.8,123.4 1477.6,128.2 1470.4,123.4 1470.4,118.2" fill="#1F3CFC"/>
<polygon points="1499.2,110.1 1506.4,114.9 1506.4,120.1 1499.2,124.9 1492.0,120.1 1492.0,114.9" fill="#1F3CFC"/>
<polygon points="1520.8,107.2 1528.0,112.0 1528.0,117.2 1520.8,122.0 1513.6,117.2 1513.6,112.0" fill="#1F3CFC"/>
<polygon points="1542.4,104.6 1549.6,109.4 1549.6,114.6 1542.4,119.4 1535.2,114.6 1535.2,109.4" fill="#1F3CFC"/>
<polygon points="1564.0,102.2 1571.2,107.0 1571.2,112.2 1564.0,117.0 1556.8,112.2 1556.8,107.0" fill="#1F3CFC"/>
<polygon points="1585.6,99.9 1592.8,104.7 1592.8,109.9 1585.6,114.7 1578.4,109.9 1578.4,104.7" fill="#1F3CFC"/>
<polygon points="1607.2,97.7 1614.4,102.5 1614.4,107.7 1607.2,112.5 1600.0,107.7 1600.0,102.5" fill="#1F3CFC"/>
<polygon points="1628.8,95.4 1636.0,100.2 1636.0,105.4 1628.8,110.2 1621.6,105.4 1621.6,100.2" fill="#1F3CFC"/>
<polygon points="1650.4,92.9 1657.6,97.7 1657.6,102.9 1650.4,107.7 1643.2,102.9 1643.2,97.7" fill="#1F3CFC"/>
<polygon points="1672.0,90.1 1679.2,94.9 1679.2,100.1 1672.0,104.9 1664.8,100.1 1664.8,94.9" fill="#1F3CFC"/>
<polygon points="1693.6,86.7 1700.8,91.5 1700.8,96.7 1693.6,101.5 1686.4,96.7 1686.4,91.5" fill="#1F3CFC"/>
<path d="M1082.3,302.3 L1082.4,300.4 L1082.5,298.5 L1082.7,296.4 L1083.0,294.3 L1083.4,292.0 L1083.9,289.7 L1084.5,287.3 L1085.1,284.9 L1085.8,282.4 L1086.7,279.8 L1087.6,277.2 L1088.6,274.5 L1089.7,271.8 L1090.9,269.1 L1092.1,266.3 L1093.5,263.5 L1094.9,260.7 L1096.4,257.8 L1098.0,254.9 L1099.7,252.0 L1101.5,249.1 L1103.4,246.1 L1105.4,243.2 L1107.4,240.2 L1109.5,237.3 L1111.8,234.3 L1114.1,231.3 L1116.5,228.4 L1118.9,225.4 L1121.5,222.5 L1124.2,219.6 L1126.9,216.6 L1129.7,213.7 L1132.7,210.8 L1135.7,208.0 L1138.8,205.1 L1141.9,202.3 L1145.2,199.5 L1148.6,196.7 L1152.0,193.9 L1155.5,191.2 L1159.1,188.5 L1162.8,185.8 L1166.6,183.1 L1170.5,180.5 L1174.5,177.9 L1178.5,175.4 L1182.7,172.8 L1186.9,170.3 L1191.2,167.9 L1195.6,165.5 L1200.1,163.1 L1204.6,160.7 L1209.3,158.4 L1214.1,156.1 L1218.9,153.8 L1223.8,151.6 L1228.8,149.4 L1233.9,147.3 L1239.1,145.2 L1244.4,143.1 L1249.7,141.1 L1255.2,139.1 L1260.7,137.1 L1266.3,135.2 L1272.0,133.3 L1277.8,131.4 L1283.7,129.6 L1289.7,127.8 L1295.7,126.1 L1301.8,124.4 L1308.1,122.7 L1314.4,121.0 L1320.8,119.4 L1327.3,117.8 L1333.9,116.2 L1340.5,114.7 L1347.3,113.2 L1354.1,111.7 L1361.0,110.3 L1368.0,108.9 L1375.1,107.5 L1382.3,106.1 L1389.6,104.8 L1397.0,103.5 L1404.4,102.2 L1411.9,100.9 L1419.6,99.7 L1427.3,98.5 L1435.1,97.3 L1442.9,96.1 L1450.9,95.0 L1459.0,93.8 L1467.1,92.7 L1475.3,91.6 L1483.7,90.6 L1492.1,89.5 L1500.6,88.5 L1509.1,87.5 L1517.8,86.5 L1526.6,85.5 L1535.4,84.5 L1544.3,83.5 L1553.3,82.6 L1562.4,81.7 L1571.6,80.7 L1580.9,79.8 L1590.3,78.9 L1599.7,78.1 L1609.2,77.2 L1618.9,76.3 L1628.6,75.5 L1638.4,74.7 L1648.3,73.9 L1658.2,73.0 L1668.3,72.2 L1678.4,71.5 L1688.7,70.7 L1699.0,69.9" fill="none" stroke="#1F3CFC" stroke-width="5.0" stroke-linejoin="round" stroke-linecap="round" />
<circle cx="1082.3" cy="302.3" r="7.3" fill="url(#gb)"/>
<circle cx="1087.1" cy="278.7" r="7.3" fill="url(#gb)"/>
<circle cx="1092.9" cy="264.7" r="7.3" fill="url(#gb)"/>
<circle cx="1102.8" cy="247.0" r="7.3" fill="url(#gb)"/>
<circle cx="1115.8" cy="229.2" r="7.3" fill="url(#gb)"/>
<circle cx="1130.9" cy="212.6" r="7.3" fill="url(#gb)"/>
<circle cx="1148.2" cy="197.0" r="7.3" fill="url(#gb)"/>
<circle cx="1169.8" cy="181.0" r="7.3" fill="url(#gb)"/>
<circle cx="1191.4" cy="167.8" r="7.3" fill="url(#gb)"/>
<circle cx="1213.0" cy="156.6" r="7.3" fill="url(#gb)"/>
<circle cx="1234.6" cy="147.0" r="7.3" fill="url(#gb)"/>
<circle cx="1256.2" cy="138.7" r="7.3" fill="url(#gb)"/>
<circle cx="1277.8" cy="131.5" r="7.3" fill="url(#gb)"/>
<circle cx="1299.4" cy="125.0" r="7.3" fill="url(#gb)"/>
<circle cx="1321.0" cy="119.3" r="7.3" fill="url(#gb)"/>
<circle cx="1342.6" cy="114.2" r="7.3" fill="url(#gb)"/>
<circle cx="1364.2" cy="109.6" r="7.3" fill="url(#gb)"/>
<circle cx="1385.8" cy="105.5" r="7.3" fill="url(#gb)"/>
<circle cx="1407.4" cy="101.7" r="7.3" fill="url(#gb)"/>
<circle cx="1429.0" cy="98.2" r="7.3" fill="url(#gb)"/>
<circle cx="1450.6" cy="95.0" r="7.3" fill="url(#gb)"/>
<circle cx="1472.2" cy="92.0" r="7.3" fill="url(#gb)"/>
<circle cx="1493.8" cy="89.3" r="7.3" fill="url(#gb)"/>
<circle cx="1515.4" cy="86.7" r="7.3" fill="url(#gb)"/>
<circle cx="1537.0" cy="84.3" r="7.3" fill="url(#gb)"/>
<circle cx="1558.6" cy="82.0" r="7.3" fill="url(#gb)"/>
<circle cx="1580.2" cy="79.9" r="7.3" fill="url(#gb)"/>
<circle cx="1601.8" cy="77.9" r="7.3" fill="url(#gb)"/>
<circle cx="1623.4" cy="75.9" r="7.3" fill="url(#gb)"/>
<circle cx="1645.0" cy="74.1" r="7.3" fill="url(#gb)"/>
<circle cx="1666.6" cy="72.4" r="7.3" fill="url(#gb)"/>
<circle cx="1688.2" cy="70.7" r="7.3" fill="url(#gb)"/>
<path d="M1072.4,296.9 L1072.4,294.7 L1072.6,292.4 L1072.8,290.0 L1073.1,287.5 L1073.5,285.1 L1074.0,282.5 L1074.6,280.0 L1075.2,277.4 L1076.0,274.7 L1076.8,272.0 L1077.7,269.3 L1078.8,266.6 L1079.9,263.9 L1081.1,261.1 L1082.3,258.3 L1083.7,255.5 L1085.2,252.6 L1086.7,249.8 L1088.4,247.0 L1090.1,244.1 L1091.9,241.3 L1093.8,238.4 L1095.8,235.6 L1097.9,232.7 L1100.0,229.9 L1102.3,227.0 L1104.6,224.2 L1107.1,221.4 L1109.6,218.6 L1112.2,215.8 L1114.9,213.0 L1117.7,210.3 L1120.6,207.5 L1123.5,204.8 L1126.6,202.1 L1129.7,199.4 L1133.0,196.7 L1136.3,194.1 L1139.7,191.5 L1143.2,188.9 L1146.8,186.3 L1150.4,183.8 L1154.2,181.3 L1158.1,178.8 L1162.0,176.3 L1166.0,173.9 L1170.1,171.5 L1174.3,169.1 L1178.6,166.7 L1183.0,164.4 L1187.5,162.1 L1192.0,159.9 L1196.7,157.6 L1201.4,155.4 L1206.2,153.3 L1211.2,151.1 L1216.2,149.0 L1221.2,147.0 L1226.4,144.9 L1231.7,142.9 L1237.0,140.9 L1242.5,139.0 L1248.0,137.0 L1253.6,135.1 L1259.3,133.3 L1265.1,131.4 L1271.0,129.6 L1277.0,127.8 L1283.1,126.1 L1289.2,124.4 L1295.4,122.7 L1301.8,121.0 L1308.2,119.4 L1314.7,117.7 L1321.3,116.2 L1328.0,114.6 L1334.7,113.1 L1341.6,111.5 L1348.5,110.1 L1355.6,108.6 L1362.7,107.2 L1369.9,105.7 L1377.2,104.4 L1384.6,103.0 L1392.1,101.6 L1399.7,100.3 L1407.3,99.0 L1415.1,97.7 L1422.9,96.5 L1430.8,95.2 L1438.8,94.0 L1446.9,92.8 L1455.1,91.6 L1463.4,90.5 L1471.7,89.3 L1480.2,88.2 L1488.7,87.1 L1497.4,86.0 L1506.1,84.9 L1514.9,83.9 L1523.8,82.8 L1532.8,81.8 L1541.8,80.8 L1551.0,79.8 L1560.2,78.9 L1569.6,77.9 L1579.0,77.0 L1588.5,76.1 L1598.1,75.2 L1607.8,74.3 L1617.6,73.5 L1627.4,72.6 L1637.4,71.8 L1647.4,71.0 L1657.6,70.2 L1667.8,69.5 L1678.1,68.8 L1688.5,68.0 L1699.0,67.3" fill="none" stroke="#1F3CFC" stroke-width="5.0" stroke-linejoin="round" stroke-linecap="round" />
<polygon points="1065.7,288.9 1079.1,296.9 1065.7,304.9" fill="#1F3CFC" stroke="#1F3CFC" stroke-width="1" stroke-linejoin="round"/>
<polygon points="1071.5,260.0 1084.9,268.0 1071.5,276.0" fill="#1F3CFC" stroke="#1F3CFC" stroke-width="1" stroke-linejoin="round"/>
<polygon points="1079.7,242.3 1093.1,250.3 1079.7,258.3" fill="#1F3CFC" stroke="#1F3CFC" stroke-width="1" stroke-linejoin="round"/>
<polygon points="1093.1,222.2 1106.5,230.2 1093.1,238.2" fill="#1F3CFC" stroke="#1F3CFC" stroke-width="1" stroke-linejoin="round"/>
<polygon points="1114.9,198.5 1128.3,206.5 1114.9,214.5" fill="#1F3CFC" stroke="#1F3CFC" stroke-width="1" stroke-linejoin="round"/>
<polygon points="1141.5,177.3 1154.9,185.3 1141.5,193.3" fill="#1F3CFC" stroke="#1F3CFC" stroke-width="1" stroke-linejoin="round"/>
<polygon points="1163.1,163.6 1176.5,171.6 1163.1,179.6" fill="#1F3CFC" stroke="#1F3CFC" stroke-width="1" stroke-linejoin="round"/>
<polygon points="1184.7,152.2 1198.1,160.2 1184.7,168.2" fill="#1F3CFC" stroke="#1F3CFC" stroke-width="1" stroke-linejoin="round"/>
<polygon points="1206.3,142.3 1219.7,150.3 1206.3,158.3" fill="#1F3CFC" stroke="#1F3CFC" stroke-width="1" stroke-linejoin="round"/>
<polygon points="1227.9,133.8 1241.3,141.8 1227.9,149.8" fill="#1F3CFC" stroke="#1F3CFC" stroke-width="1" stroke-linejoin="round"/>
<polygon points="1249.5,126.3 1262.9,134.3 1249.5,142.3" fill="#1F3CFC" stroke="#1F3CFC" stroke-width="1" stroke-linejoin="round"/>
<polygon points="1271.1,119.6 1284.5,127.6 1271.1,135.6" fill="#1F3CFC" stroke="#1F3CFC" stroke-width="1" stroke-linejoin="round"/>
<polygon points="1292.7,113.6 1306.1,121.6 1292.7,129.6" fill="#1F3CFC" stroke="#1F3CFC" stroke-width="1" stroke-linejoin="round"/>
<polygon points="1314.3,108.2 1327.7,116.2 1314.3,124.2" fill="#1F3CFC" stroke="#1F3CFC" stroke-width="1" stroke-linejoin="round"/>
<polygon points="1335.9,103.3 1349.3,111.3 1335.9,119.3" fill="#1F3CFC" stroke="#1F3CFC" stroke-width="1" stroke-linejoin="round"/>
<polygon points="1357.5,98.9 1370.9,106.9 1357.5,114.9" fill="#1F3CFC" stroke="#1F3CFC" stroke-width="1" stroke-linejoin="round"/>
<polygon points="1379.1,94.8 1392.5,102.8 1379.1,110.8" fill="#1F3CFC" stroke="#1F3CFC" stroke-width="1" stroke-linejoin="round"/>
<polygon points="1400.7,91.0 1414.1,99.0 1400.7,107.0" fill="#1F3CFC" stroke="#1F3CFC" stroke-width="1" stroke-linejoin="round"/>
<polygon points="1422.3,87.5 1435.7,95.5 1422.3,103.5" fill="#1F3CFC" stroke="#1F3CFC" stroke-width="1" stroke-linejoin="round"/>
<polygon points="1443.9,84.3 1457.3,92.3 1443.9,100.3" fill="#1F3CFC" stroke="#1F3CFC" stroke-width="1" stroke-linejoin="round"/>
<polygon points="1465.5,81.3 1478.9,89.3 1465.5,97.3" fill="#1F3CFC" stroke="#1F3CFC" stroke-width="1" stroke-linejoin="round"/>
<polygon points="1487.1,78.4 1500.5,86.4 1487.1,94.4" fill="#1F3CFC" stroke="#1F3CFC" stroke-width="1" stroke-linejoin="round"/>
<polygon points="1508.7,75.8 1522.1,83.8 1508.7,91.8" fill="#1F3CFC" stroke="#1F3CFC" stroke-width="1" stroke-linejoin="round"/>
<polygon points="1530.3,73.3 1543.7,81.3 1530.3,89.3" fill="#1F3CFC" stroke="#1F3CFC" stroke-width="1" stroke-linejoin="round"/>
<polygon points="1551.9,71.0 1565.3,79.0 1551.9,87.0" fill="#1F3CFC" stroke="#1F3CFC" stroke-width="1" stroke-linejoin="round"/>
<polygon points="1573.5,68.9 1586.9,76.9 1573.5,84.9" fill="#1F3CFC" stroke="#1F3CFC" stroke-width="1" stroke-linejoin="round"/>
<polygon points="1595.1,66.9 1608.5,74.9 1595.1,82.9" fill="#1F3CFC" stroke="#1F3CFC" stroke-width="1" stroke-linejoin="round"/>
<polygon points="1616.7,65.0 1630.1,73.0 1616.7,81.0" fill="#1F3CFC" stroke="#1F3CFC" stroke-width="1" stroke-linejoin="round"/>
<polygon points="1638.3,63.2 1651.7,71.2 1638.3,79.2" fill="#1F3CFC" stroke="#1F3CFC" stroke-width="1" stroke-linejoin="round"/>
<polygon points="1659.9,61.6 1673.3,69.6 1659.9,77.6" fill="#1F3CFC" stroke="#1F3CFC" stroke-width="1" stroke-linejoin="round"/>
<polygon points="1681.5,60.1 1694.9,68.1 1681.5,76.1" fill="#1F3CFC" stroke="#1F3CFC" stroke-width="1" stroke-linejoin="round"/>
<path d="M1055.8,291.5 L1055.8,290.0 L1055.9,288.4 L1056.2,286.6 L1056.5,284.7 L1056.9,282.7 L1057.4,280.6 L1058.0,278.4 L1058.7,276.2 L1059.4,273.8 L1060.3,271.4 L1061.2,268.9 L1062.3,266.3 L1063.4,263.7 L1064.7,261.1 L1066.0,258.4 L1067.4,255.7 L1068.9,252.9 L1070.5,250.1 L1072.2,247.3 L1073.9,244.5 L1075.8,241.6 L1077.7,238.8 L1079.8,235.9 L1081.9,233.0 L1084.1,230.2 L1086.5,227.3 L1088.9,224.4 L1091.4,221.6 L1094.0,218.7 L1096.6,215.9 L1099.4,213.1 L1102.3,210.3 L1105.2,207.5 L1108.3,204.7 L1111.4,202.0 L1114.6,199.3 L1117.9,196.6 L1121.3,193.9 L1124.8,191.2 L1128.4,188.6 L1132.1,186.0 L1135.9,183.5 L1139.7,180.9 L1143.7,178.4 L1147.7,175.9 L1151.9,173.5 L1156.1,171.0 L1160.4,168.6 L1164.8,166.3 L1169.3,163.9 L1173.9,161.6 L1178.6,159.4 L1183.3,157.1 L1188.2,154.9 L1193.2,152.7 L1198.2,150.6 L1203.3,148.5 L1208.6,146.4 L1213.9,144.3 L1219.3,142.3 L1224.8,140.3 L1230.4,138.3 L1236.0,136.3 L1241.8,134.4 L1247.7,132.5 L1253.6,130.7 L1259.7,128.8 L1265.8,127.0 L1272.0,125.2 L1278.3,123.5 L1284.7,121.8 L1291.2,120.0 L1297.8,118.4 L1304.5,116.7 L1311.3,115.1 L1318.1,113.5 L1325.1,111.9 L1332.1,110.3 L1339.2,108.8 L1346.5,107.3 L1353.8,105.8 L1361.2,104.4 L1368.7,102.9 L1376.3,101.5 L1383.9,100.1 L1391.7,98.7 L1399.6,97.4 L1407.5,96.0 L1415.6,94.7 L1423.7,93.4 L1431.9,92.2 L1440.2,90.9 L1448.6,89.7 L1457.1,88.5 L1465.7,87.3 L1474.4,86.2 L1483.1,85.0 L1492.0,83.9 L1501.0,82.8 L1510.0,81.7 L1519.1,80.6 L1528.3,79.6 L1537.7,78.5 L1547.1,77.5 L1556.6,76.5 L1566.1,75.5 L1575.8,74.6 L1585.6,73.6 L1595.4,72.7 L1605.4,71.8 L1615.4,70.9 L1625.5,70.0 L1635.8,69.1 L1646.1,68.2 L1656.5,67.4 L1667.0,66.5 L1677.6,65.7 L1688.2,64.9 L1699.0,64.0" fill="none" stroke="#1F3CFC" stroke-width="5.0" stroke-linejoin="round" stroke-linecap="round" />
<rect x="1049.5" y="285.2" width="12.6" height="12.6" fill="#1F3CFC"/>
<rect x="1055.5" y="261.2" width="12.6" height="12.6" fill="#1F3CFC"/>
<rect x="1066.3" y="240.3" width="12.6" height="12.6" fill="#1F3CFC"/>
<rect x="1077.1" y="224.8" width="12.6" height="12.6" fill="#1F3CFC"/>
<rect x="1098.7" y="201.4" width="12.6" height="12.6" fill="#1F3CFC"/>
<rect x="1120.3" y="183.7" width="12.6" height="12.6" fill="#1F3CFC"/>
<rect x="1141.9" y="169.3" width="12.6" height="12.6" fill="#1F3CFC"/>
<rect x="1163.5" y="157.4" width="12.6" height="12.6" fill="#1F3CFC"/>
<rect x="1185.1" y="147.2" width="12.6" height="12.6" fill="#1F3CFC"/>
<rect x="1206.7" y="138.3" width="12.6" height="12.6" fill="#1F3CFC"/>
<rect x="1228.3" y="130.5" width="12.6" height="12.6" fill="#1F3CFC"/>
<rect x="1249.9" y="123.6" width="12.6" height="12.6" fill="#1F3CFC"/>
<rect x="1271.5" y="117.3" width="12.6" height="12.6" fill="#1F3CFC"/>
<rect x="1293.1" y="111.7" width="12.6" height="12.6" fill="#1F3CFC"/>
<rect x="1314.7" y="106.5" width="12.6" height="12.6" fill="#1F3CFC"/>
<rect x="1336.3" y="101.8" width="12.6" height="12.6" fill="#1F3CFC"/>
<rect x="1357.9" y="97.5" width="12.6" height="12.6" fill="#1F3CFC"/>
<rect x="1379.5" y="93.5" width="12.6" height="12.6" fill="#1F3CFC"/>
<rect x="1401.1" y="89.8" width="12.6" height="12.6" fill="#1F3CFC"/>
<rect x="1422.7" y="86.3" width="12.6" height="12.6" fill="#1F3CFC"/>
<rect x="1444.3" y="83.1" width="12.6" height="12.6" fill="#1F3CFC"/>
<rect x="1465.9" y="80.1" width="12.6" height="12.6" fill="#1F3CFC"/>
<rect x="1487.5" y="77.4" width="12.6" height="12.6" fill="#1F3CFC"/>
<rect x="1509.1" y="74.8" width="12.6" height="12.6" fill="#1F3CFC"/>
<rect x="1530.7" y="72.3" width="12.6" height="12.6" fill="#1F3CFC"/>
<rect x="1552.3" y="70.0" width="12.6" height="12.6" fill="#1F3CFC"/>
<rect x="1573.9" y="67.8" width="12.6" height="12.6" fill="#1F3CFC"/>
<rect x="1595.5" y="65.8" width="12.6" height="12.6" fill="#1F3CFC"/>
<rect x="1617.1" y="63.9" width="12.6" height="12.6" fill="#1F3CFC"/>
<rect x="1638.7" y="62.0" width="12.6" height="12.6" fill="#1F3CFC"/>
<rect x="1660.3" y="60.3" width="12.6" height="12.6" fill="#1F3CFC"/>
<rect x="1681.9" y="58.6" width="12.6" height="12.6" fill="#1F3CFC"/>
</g>
<rect x="1040.2" y="11.3" width="648.0" height="496.59999999999997" fill="none" stroke="#000" stroke-width="2.2"/>
<path d="M1030.0,502.9 H1040.2 M1035.0,453.7 H1040.2 M1030.0,404.6 H1040.2 M1035.0,355.4 H1040.2 M1030.0,306.3 H1040.2 M1035.0,257.1 H1040.2 M1030.0,207.9 H1040.2 M1035.0,158.8 H1040.2 M1030.0,109.6 H1040.2 M1035.0,60.5 H1040.2 M1030.0,11.3 H1040.2 M1040.2,507.9 V516.9 M1094.2,507.9 V512.4 M1148.2,507.9 V516.9 M1202.2,507.9 V512.4 M1256.2,507.9 V516.9 M1310.2,507.9 V512.4 M1364.2,507.9 V516.9 M1418.2,507.9 V512.4 M1472.2,507.9 V516.9 M1526.2,507.9 V512.4 M1580.2,507.9 V516.9 M1634.2,507.9 V512.4 M1688.2,507.9 V516.9" stroke="#000" stroke-width="1.9" fill="none"/>
<g font-family="'Liberation Serif', 'DejaVu Serif', serif" font-size="32" fill="#000">
<text x="1022.8" y="512.3" text-anchor="end">0.0</text>
<text x="1022.8" y="414.0" text-anchor="end">0.2</text>
<text x="1022.8" y="315.7" text-anchor="end">0.4</text>
<text x="1022.8" y="217.3" text-anchor="end">0.6</text>
<text x="1022.8" y="119.0" text-anchor="end">0.8</text>
<text x="1022.8" y="20.7" text-anchor="end">1.0</text>
</g>
<g font-family="'Liberation Serif', 'DejaVu Serif', serif" font-size="31.8" fill="#000">
<text x="1040.7" y="547.2" text-anchor="middle">0.000</text>
<text x="1148.7" y="547.2" text-anchor="middle">0.005</text>
<text x="1256.7" y="547.2" text-anchor="middle">0.010</text>
<text x="1364.7" y="547.2" text-anchor="middle">0.015</text>
<text x="1472.7" y="547.2" text-anchor="middle">0.020</text>
<text x="1580.7" y="547.2" text-anchor="middle">0.025</text>
<text x="1688.7" y="547.2" text-anchor="middle">0.030</text>
</g>
<line x1="1073.5" y1="503.3" x2="1191.2" y2="360.0" stroke="#000" stroke-width="1.25"/>
<polygon points="1199.5,350.0 1193.9,362.3 1188.5,357.8" fill="#000"/>
<line x1="1093.0" y1="503.3" x2="1198.8" y2="393.8" stroke="#000" stroke-width="1.25"/>
<polygon points="1207.8,384.4 1201.3,396.2 1196.3,391.3" fill="#000"/>
<line x1="1110.8" y1="503.0" x2="1205.9" y2="422.8" stroke="#000" stroke-width="1.25"/>
<polygon points="1215.8,414.4 1208.1,425.5 1203.6,420.1" fill="#000"/>
<line x1="1190.3" y1="502.3" x2="1225.0" y2="457.0" stroke="#000" stroke-width="1.25"/>
<polygon points="1232.9,446.7 1227.8,459.1 1222.2,454.9" fill="#000"/>
<line x1="1198.6" y1="502.3" x2="1239.5" y2="480.6" stroke="#000" stroke-width="1.25"/>
<polygon points="1251.0,474.5 1241.2,483.7 1237.9,477.5" fill="#000"/>
<g font-family="'Liberation Serif', 'DejaVu Serif', serif" font-size="22.2" fill="#000">
<text x="1203.0" y="353.5">0.0014</text>
<text x="1208.1" y="385.0">0.0023</text>
<text x="1219.5" y="415.90000000000003">0.0032</text>
<text x="1233.3" y="446.5">0.007</text>
<text x="1251.6" y="477.40000000000003">0.0072</text>
</g>
<rect x="165.4" y="21.0" width="301.5" height="232.4" fill="#fff" stroke="#3a3a3a" stroke-width="1.2"/>
<path d="M172.5,40.5 L230.2,40.5" fill="none" stroke="#1F3CFC" stroke-width="5.0" stroke-linejoin="round" stroke-linecap="round" />
<path d="M172.5,70.8 L230.2,70.8" fill="none" stroke="#F53E3E" stroke-width="5.0" stroke-linejoin="round" stroke-linecap="round" />
<g font-family="'Liberation Serif', 'DejaVu Serif', serif" font-size="26.6" fill="#000">
<text x="238.7" y="48.7">General Model</text>
<text x="239.2" y="79.2">Base Model</text>
</g>
<path d="M169.8,106.2 L229.5,106.2" fill="none" stroke="#1F3CFC" stroke-width="5.0" stroke-linejoin="round" stroke-linecap="round" />
<polygon points="199.7,98.8 206.8,103.6 206.8,108.8 199.7,113.6 192.5,108.8 192.5,103.6" fill="#1F3CFC"/>
<path d="M237.0,106.2 L296.8,106.2" fill="none" stroke="#F53E3E" stroke-width="5.0" stroke-linejoin="round" stroke-linecap="round" />
<polygon points="266.9,98.8 274.1,103.6 274.1,108.8 266.9,113.6 259.7,108.8 259.7,103.6" fill="#F53E3E"/>
<text font-family="'Liberation Serif', 'DejaVu Serif', serif" fill="#000"><tspan x="302.2" y="116.6" font-family="'DejaVu Serif', serif" font-size="25.2" style="stroke:#fff;stroke-width:0.7px">⟨</tspan><tspan x="312.2" y="115.0" font-style="italic" font-size="25.2">k</tspan><tspan x="324.2" y="104.4" font-size="16.8">2</tspan><tspan x="323.5" y="121.3" font-size="16.8">1</tspan><tspan x="331.9" y="116.6" font-family="'DejaVu Serif', serif" font-size="25.2" style="stroke:#fff;stroke-width:0.7px">⟩</tspan><tspan x="341.9" y="115.0" font-size="26.5">/</tspan><tspan x="348.5" y="116.6" font-family="'DejaVu Serif', serif" font-size="25.2" style="stroke:#fff;stroke-width:0.7px">⟨</tspan><tspan x="358.5" y="115.0" font-style="italic" font-size="25.2">k</tspan><tspan x="370.8" y="121.3" font-size="16.8">1</tspan><tspan x="378.3" y="116.6" font-family="'DejaVu Serif', serif" font-size="25.2" style="stroke:#fff;stroke-width:0.7px">⟩</tspan><tspan x="387.7" y="115.0" font-size="26.3" textLength="15.6" lengthAdjust="spacingAndGlyphs">=</tspan><tspan x="403.8" y="115.0" font-size="26.3">19.68</tspan></text>
<path d="M169.8,148.4 L229.5,148.4" fill="none" stroke="#1F3CFC" stroke-width="5.0" stroke-linejoin="round" stroke-linecap="round" />
<circle cx="199.7" cy="148.4" r="7.3" fill="url(#gb)"/>
<path d="M237.0,148.4 L296.8,148.4" fill="none" stroke="#F53E3E" stroke-width="5.0" stroke-linejoin="round" stroke-linecap="round" />
<circle cx="266.9" cy="148.4" r="7.3" fill="url(#glr)"/>
<text font-family="'Liberation Serif', 'DejaVu Serif', serif" fill="#000"><tspan x="302.2" y="158.8" font-family="'DejaVu Serif', serif" font-size="25.2" style="stroke:#fff;stroke-width:0.7px">⟨</tspan><tspan x="312.2" y="157.2" font-style="italic" font-size="25.2">k</tspan><tspan x="324.2" y="146.6" font-size="16.8">2</tspan><tspan x="323.5" y="163.5" font-size="16.8">1</tspan><tspan x="331.9" y="158.8" font-family="'DejaVu Serif', serif" font-size="25.2" style="stroke:#fff;stroke-width:0.7px">⟩</tspan><tspan x="341.9" y="157.2" font-size="26.5">/</tspan><tspan x="348.5" y="158.8" font-family="'DejaVu Serif', serif" font-size="25.2" style="stroke:#fff;stroke-width:0.7px">⟨</tspan><tspan x="358.5" y="157.2" font-style="italic" font-size="25.2">k</tspan><tspan x="370.8" y="163.5" font-size="16.8">1</tspan><tspan x="378.3" y="158.8" font-family="'DejaVu Serif', serif" font-size="25.2" style="stroke:#fff;stroke-width:0.7px">⟩</tspan><tspan x="387.7" y="157.2" font-size="26.3" textLength="15.6" lengthAdjust="spacingAndGlyphs">=</tspan><tspan x="403.8" y="157.2" font-size="26.3">22.87</tspan></text>
<path d="M169.8,189.4 L229.5,189.4" fill="none" stroke="#1F3CFC" stroke-width="5.0" stroke-linejoin="round" stroke-linecap="round" />
<polygon points="193.0,181.4 206.3,189.4 193.0,197.4" fill="#1F3CFC" stroke="#1F3CFC" stroke-width="1" stroke-linejoin="round"/>
<path d="M237.0,189.4 L296.8,189.4" fill="none" stroke="#FF0000" stroke-width="5.0" stroke-linejoin="round" stroke-linecap="round" />
<polygon points="260.2,181.4 273.6,189.4 260.2,197.4" fill="#FF0000" stroke="#FF0000" stroke-width="1" stroke-linejoin="round"/>
<text font-family="'Liberation Serif', 'DejaVu Serif', serif" fill="#000"><tspan x="302.2" y="199.8" font-family="'DejaVu Serif', serif" font-size="25.2" style="stroke:#fff;stroke-width:0.7px">⟨</tspan><tspan x="312.2" y="198.2" font-style="italic" font-size="25.2">k</tspan><tspan x="324.2" y="187.6" font-size="16.8">2</tspan><tspan x="323.5" y="204.5" font-size="16.8">1</tspan><tspan x="331.9" y="199.8" font-family="'DejaVu Serif', serif" font-size="25.2" style="stroke:#fff;stroke-width:0.7px">⟩</tspan><tspan x="341.9" y="198.2" font-size="26.5">/</tspan><tspan x="348.5" y="199.8" font-family="'DejaVu Serif', serif" font-size="25.2" style="stroke:#fff;stroke-width:0.7px">⟨</tspan><tspan x="358.5" y="198.2" font-style="italic" font-size="25.2">k</tspan><tspan x="370.8" y="204.5" font-size="16.8">1</tspan><tspan x="378.3" y="199.8" font-family="'DejaVu Serif', serif" font-size="25.2" style="stroke:#fff;stroke-width:0.7px">⟩</tspan><tspan x="387.7" y="198.2" font-size="26.3" textLength="15.6" lengthAdjust="spacingAndGlyphs">=</tspan><tspan x="403.8" y="198.2" font-size="26.3">27.59</tspan></text>
<path d="M169.8,231.5 L229.5,231.5" fill="none" stroke="#1F3CFC" stroke-width="5.0" stroke-linejoin="round" stroke-linecap="round" />
<rect x="193.3" y="225.2" width="12.6" height="12.6" fill="#1F3CFC"/>
<path d="M237.0,231.5 L296.8,231.5" fill="none" stroke="#FF0000" stroke-width="5.0" stroke-linejoin="round" stroke-linecap="round" />
<rect x="260.6" y="225.2" width="12.6" height="12.6" fill="#FF0000"/>
<text font-family="'Liberation Serif', 'DejaVu Serif', serif" fill="#000"><tspan x="302.2" y="241.9" font-family="'DejaVu Serif', serif" font-size="25.2" style="stroke:#fff;stroke-width:0.7px">⟨</tspan><tspan x="312.2" y="240.3" font-style="italic" font-size="25.2">k</tspan><tspan x="324.2" y="229.7" font-size="16.8">2</tspan><tspan x="323.5" y="246.6" font-size="16.8">1</tspan><tspan x="331.9" y="241.9" font-family="'DejaVu Serif', serif" font-size="25.2" style="stroke:#fff;stroke-width:0.7px">⟩</tspan><tspan x="341.9" y="240.3" font-size="26.5">/</tspan><tspan x="348.5" y="241.9" font-family="'DejaVu Serif', serif" font-size="25.2" style="stroke:#fff;stroke-width:0.7px">⟨</tspan><tspan x="358.5" y="240.3" font-style="italic" font-size="25.2">k</tspan><tspan x="370.8" y="246.6" font-size="16.8">1</tspan><tspan x="378.3" y="241.9" font-family="'DejaVu Serif', serif" font-size="25.2" style="stroke:#fff;stroke-width:0.7px">⟩</tspan><tspan x="387.7" y="240.3" font-size="26.3" textLength="15.6" lengthAdjust="spacingAndGlyphs">=</tspan><tspan x="403.8" y="240.3" font-size="26.3">42.88</tspan></text>
<rect x="1368.4" y="254.8" width="305.0" height="238.4" fill="#fff" stroke="#3a3a3a" stroke-width="1.2"/>
<path d="M1372.3,272.1 L1432.1,272.1" fill="none" stroke="#1F3CFC" stroke-width="5.0" stroke-linejoin="round" stroke-linecap="round" />
<path d="M1372.3,303.8 L1432.1,303.8" fill="none" stroke="#FF0000" stroke-width="5.0" stroke-linejoin="round" stroke-linecap="round" />
<g font-family="'Liberation Serif', 'DejaVu Serif', serif" font-size="27.1" fill="#000">
<text x="1441.7" y="281.1">General Model</text>
<text x="1442.2" y="312.4">Base Model</text>
</g>
<path d="M1371.9,341.6 L1432.0,341.6" fill="none" stroke="#1F3CFC" stroke-width="5.0" stroke-linejoin="round" stroke-linecap="round" />
<polygon points="1402.0,334.2 1409.2,339.0 1409.2,344.2 1402.0,349.0 1394.8,344.2 1394.8,339.0" fill="#1F3CFC"/>
<path d="M1439.2,341.6 L1500.0,341.6" fill="none" stroke="#FF0000" stroke-width="5.0" stroke-linejoin="round" stroke-linecap="round" />
<polygon points="1469.6,334.2 1476.8,339.0 1476.8,344.2 1469.6,349.0 1462.4,344.2 1462.4,339.0" fill="#FF0000"/>
<text font-family="'Liberation Serif', 'DejaVu Serif', serif" fill="#000"><tspan x="1505.1" y="352.3" font-family="'DejaVu Serif', serif" font-size="25.9" style="stroke:#fff;stroke-width:0.7px">⟨</tspan><tspan x="1515.4" y="350.6" font-style="italic" font-size="25.9">k</tspan><tspan x="1527.7" y="339.8" font-size="17.2">2</tspan><tspan x="1527.0" y="357.1" font-size="17.2">1</tspan><tspan x="1535.6" y="352.3" font-family="'DejaVu Serif', serif" font-size="25.9" style="stroke:#fff;stroke-width:0.7px">⟩</tspan><tspan x="1545.9" y="350.6" font-size="27.2">/</tspan><tspan x="1552.6" y="352.3" font-family="'DejaVu Serif', serif" font-size="25.9" style="stroke:#fff;stroke-width:0.7px">⟨</tspan><tspan x="1562.9" y="350.6" font-style="italic" font-size="25.9">k</tspan><tspan x="1575.5" y="357.1" font-size="17.2">1</tspan><tspan x="1583.2" y="352.3" font-family="'DejaVu Serif', serif" font-size="25.9" style="stroke:#fff;stroke-width:0.7px">⟩</tspan><tspan x="1592.9" y="350.6" font-size="27.0" textLength="16.0" lengthAdjust="spacingAndGlyphs">=</tspan><tspan x="1609.4" y="350.6" font-size="27.0">19.68</tspan></text>
<path d="M1371.9,384.3 L1432.0,384.3" fill="none" stroke="#1F3CFC" stroke-width="5.0" stroke-linejoin="round" stroke-linecap="round" />
<circle cx="1402.0" cy="384.3" r="7.3" fill="url(#gb)"/>
<path d="M1439.2,384.3 L1500.0,384.3" fill="none" stroke="#FF0000" stroke-width="5.0" stroke-linejoin="round" stroke-linecap="round" />
<circle cx="1469.6" cy="384.3" r="7.3" fill="url(#gr)"/>
<text font-family="'Liberation Serif', 'DejaVu Serif', serif" fill="#000"><tspan x="1505.1" y="395.0" font-family="'DejaVu Serif', serif" font-size="25.9" style="stroke:#fff;stroke-width:0.7px">⟨</tspan><tspan x="1515.4" y="393.3" font-style="italic" font-size="25.9">k</tspan><tspan x="1527.7" y="382.5" font-size="17.2">2</tspan><tspan x="1527.0" y="399.8" font-size="17.2">1</tspan><tspan x="1535.6" y="395.0" font-family="'DejaVu Serif', serif" font-size="25.9" style="stroke:#fff;stroke-width:0.7px">⟩</tspan><tspan x="1545.9" y="393.3" font-size="27.2">/</tspan><tspan x="1552.6" y="395.0" font-family="'DejaVu Serif', serif" font-size="25.9" style="stroke:#fff;stroke-width:0.7px">⟨</tspan><tspan x="1562.9" y="393.3" font-style="italic" font-size="25.9">k</tspan><tspan x="1575.5" y="399.8" font-size="17.2">1</tspan><tspan x="1583.2" y="395.0" font-family="'DejaVu Serif', serif" font-size="25.9" style="stroke:#fff;stroke-width:0.7px">⟩</tspan><tspan x="1592.9" y="393.3" font-size="27.0" textLength="16.0" lengthAdjust="spacingAndGlyphs">=</tspan><tspan x="1609.4" y="393.3" font-size="27.0">22.87</tspan></text>
<path d="M1371.9,427.8 L1432.0,427.8" fill="none" stroke="#1F3CFC" stroke-width="5.0" stroke-linejoin="round" stroke-linecap="round" />
<polygon points="1395.2,419.8 1408.7,427.8 1395.2,435.8" fill="#1F3CFC" stroke="#1F3CFC" stroke-width="1" stroke-linejoin="round"/>
<path d="M1439.2,427.8 L1500.0,427.8" fill="none" stroke="#FF0000" stroke-width="5.0" stroke-linejoin="round" stroke-linecap="round" />
<polygon points="1462.9,419.8 1476.3,427.8 1462.9,435.8" fill="#FF0000" stroke="#FF0000" stroke-width="1" stroke-linejoin="round"/>
<text font-family="'Liberation Serif', 'DejaVu Serif', serif" fill="#000"><tspan x="1505.1" y="438.5" font-family="'DejaVu Serif', serif" font-size="25.9" style="stroke:#fff;stroke-width:0.7px">⟨</tspan><tspan x="1515.4" y="436.8" font-style="italic" font-size="25.9">k</tspan><tspan x="1527.7" y="426.0" font-size="17.2">2</tspan><tspan x="1527.0" y="443.3" font-size="17.2">1</tspan><tspan x="1535.6" y="438.5" font-family="'DejaVu Serif', serif" font-size="25.9" style="stroke:#fff;stroke-width:0.7px">⟩</tspan><tspan x="1545.9" y="436.8" font-size="27.2">/</tspan><tspan x="1552.6" y="438.5" font-family="'DejaVu Serif', serif" font-size="25.9" style="stroke:#fff;stroke-width:0.7px">⟨</tspan><tspan x="1562.9" y="436.8" font-style="italic" font-size="25.9">k</tspan><tspan x="1575.5" y="443.3" font-size="17.2">1</tspan><tspan x="1583.2" y="438.5" font-family="'DejaVu Serif', serif" font-size="25.9" style="stroke:#fff;stroke-width:0.7px">⟩</tspan><tspan x="1592.9" y="436.8" font-size="27.0" textLength="16.0" lengthAdjust="spacingAndGlyphs">=</tspan><tspan x="1609.4" y="436.8" font-size="27.0">27.59</tspan></text>
<path d="M1371.9,471.1 L1432.0,471.1" fill="none" stroke="#1F3CFC" stroke-width="5.0" stroke-linejoin="round" stroke-linecap="round" />
<rect x="1395.7" y="464.8" width="12.6" height="12.6" fill="#1F3CFC"/>
<path d="M1439.2,471.1 L1500.0,471.1" fill="none" stroke="#FF0000" stroke-width="5.0" stroke-linejoin="round" stroke-linecap="round" />
<rect x="1463.3" y="464.8" width="12.6" height="12.6" fill="#FF0000"/>
<text font-family="'Liberation Serif', 'DejaVu Serif', serif" fill="#000"><tspan x="1505.1" y="481.8" font-family="'DejaVu Serif', serif" font-size="25.9" style="stroke:#fff;stroke-width:0.7px">⟨</tspan><tspan x="1515.4" y="480.1" font-style="italic" font-size="25.9">k</tspan><tspan x="1527.7" y="469.3" font-size="17.2">2</tspan><tspan x="1527.0" y="486.6" font-size="17.2">1</tspan><tspan x="1535.6" y="481.8" font-family="'DejaVu Serif', serif" font-size="25.9" style="stroke:#fff;stroke-width:0.7px">⟩</tspan><tspan x="1545.9" y="480.1" font-size="27.2">/</tspan><tspan x="1552.6" y="481.8" font-family="'DejaVu Serif', serif" font-size="25.9" style="stroke:#fff;stroke-width:0.7px">⟨</tspan><tspan x="1562.9" y="480.1" font-style="italic" font-size="25.9">k</tspan><tspan x="1575.5" y="486.6" font-size="17.2">1</tspan><tspan x="1583.2" y="481.8" font-family="'DejaVu Serif', serif" font-size="25.9" style="stroke:#fff;stroke-width:0.7px">⟩</tspan><tspan x="1592.9" y="480.1" font-size="27.0" textLength="16.0" lengthAdjust="spacingAndGlyphs">=</tspan><tspan x="1609.4" y="480.1" font-size="27.0">42.88</tspan></text>
<g font-family="'Liberation Serif', 'DejaVu Serif', serif" fill="#000">
<text x="56.3" y="278.1" font-size="43.7" font-style="italic" textLength="27.6" lengthAdjust="spacingAndGlyphs">R</text>
<text x="84.0" y="289.4" font-size="29.6" textLength="15.8" lengthAdjust="spacingAndGlyphs">0</text>
<g transform="translate(462.5,597.2) skewX(-12)"><text x="0" y="0" font-size="43.1" font-style="italic" transform="scale(1.13,1)">β</text></g>
<text transform="translate(487.6,608.6) scale(0.86,1)" x="0" y="0" font-size="29">1</text>
<g transform="translate(1345.9,597.2) skewX(-12)"><text x="0" y="0" font-size="43.1" font-style="italic" transform="scale(1.13,1)">β</text></g>
<text transform="translate(1369.7,608.6) scale(0.86,1)" x="0" y="0" font-size="29">1</text>
<text transform="translate(973.2,253.2) rotate(-90)" font-size="46" text-anchor="middle">I</text>
<text transform="translate(-1.7,618) scale(0.8,1)" font-size="53.9">(</text>
<text transform="translate(13.3,617) scale(1.2,1)" font-size="46.5">a</text>
<text transform="translate(38.2,618) scale(0.8,1)" font-size="53.9">)</text>
<text transform="translate(870.3,618) scale(0.8,1)" font-size="53.9">(</text>
<text transform="translate(887,617) scale(1.07,1)" font-size="49">b</text>
<text transform="translate(913.2,618) scale(0.8,1)" font-size="53.9">)</text>
</g>
</svg>
</body></html>
